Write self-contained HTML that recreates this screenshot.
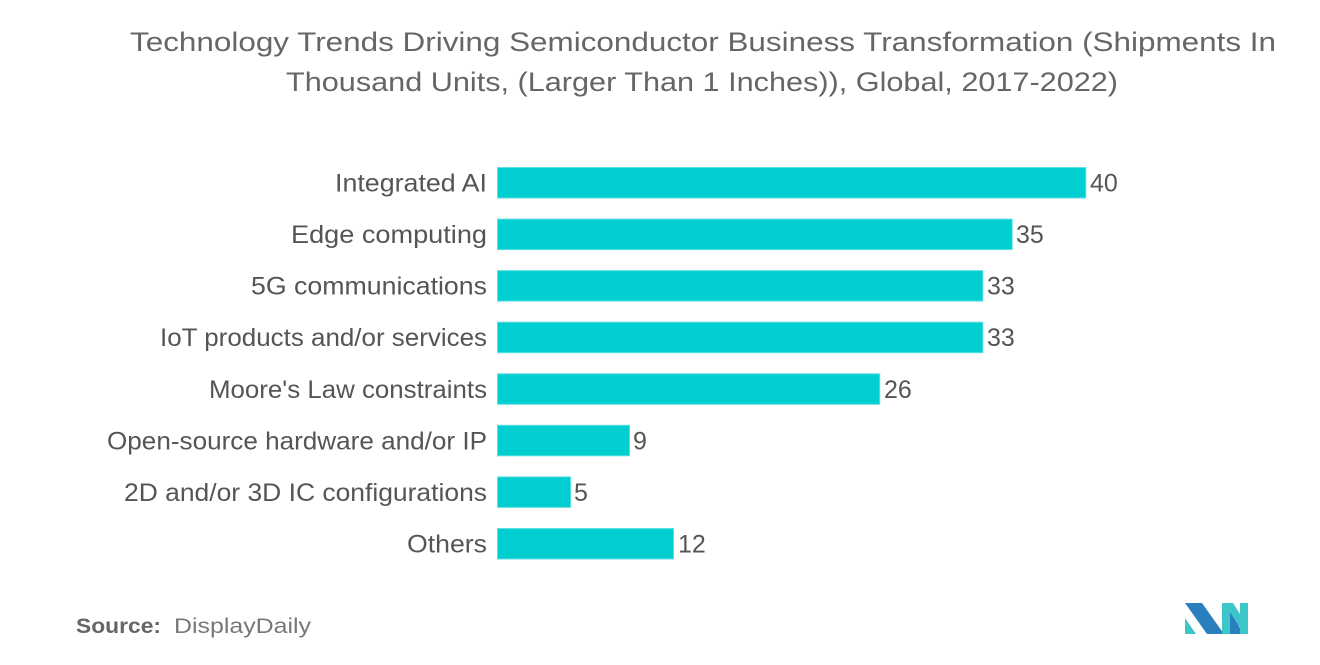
<!DOCTYPE html>
<html>
<head>
<meta charset="utf-8">
<style>
  html,body{margin:0;padding:0;background:#fff;}
  svg{display:block;}
  text{font-family:"Liberation Sans",sans-serif;}
</style>
</head>
<body>
<svg width="1320" height="665" viewBox="0 0 1320 665" xmlns="http://www.w3.org/2000/svg">
  <rect width="1320" height="665" fill="#fff"/>
  <!-- Title -->
  <text x="130" y="51" font-size="27" fill="#666" textLength="1146" lengthAdjust="spacingAndGlyphs">Technology Trends Driving Semiconductor Business Transformation (Shipments In</text>
  <text x="286" y="91" font-size="27" fill="#666" textLength="832" lengthAdjust="spacingAndGlyphs">Thousand Units, (Larger Than 1 Inches)), Global, 2017-2022)</text>

  <!-- Bars -->
  <g fill="#00CED1" stroke="#5ee0e2" stroke-width="1">
    <rect x="497.5" y="167.5" width="588.3" height="30.5"/>
    <rect x="497.5" y="219.1" width="514.7" height="30.5"/>
    <rect x="497.5" y="270.6" width="485.3" height="30.5"/>
    <rect x="497.5" y="322.2" width="485.3" height="30.5"/>
    <rect x="497.5" y="373.8" width="382.2" height="30.5"/>
    <rect x="497.5" y="425.3" width="132" height="30.5"/>
    <rect x="497.5" y="476.9" width="73.1" height="30.5"/>
    <rect x="497.5" y="528.5" width="176" height="30.5"/>
  </g>

  <!-- Category labels -->
  <g font-size="25" fill="#555" text-anchor="end">
    <text x="487" y="191.5" textLength="152" lengthAdjust="spacingAndGlyphs">Integrated AI</text>
    <text x="487" y="243.1" textLength="196" lengthAdjust="spacingAndGlyphs">Edge computing</text>
    <text x="487" y="294.6" textLength="236" lengthAdjust="spacingAndGlyphs">5G communications</text>
    <text x="487" y="346.2" textLength="327" lengthAdjust="spacingAndGlyphs">IoT products and/or services</text>
    <text x="487" y="397.8" textLength="278" lengthAdjust="spacingAndGlyphs">Moore's Law constraints</text>
    <text x="487" y="449.3" textLength="380" lengthAdjust="spacingAndGlyphs">Open-source hardware and/or IP</text>
    <text x="487" y="500.9" textLength="363" lengthAdjust="spacingAndGlyphs">2D and/or 3D IC configurations</text>
    <text x="487" y="552.5" textLength="80" lengthAdjust="spacingAndGlyphs">Others</text>
  </g>

  <!-- Value labels -->
  <g font-size="25" fill="#555">
    <text x="1090" y="191.5">40</text>
    <text x="1016" y="243.1">35</text>
    <text x="987" y="294.6">33</text>
    <text x="987" y="346.2">33</text>
    <text x="884" y="397.8">26</text>
    <text x="633" y="449.3">9</text>
    <text x="574" y="500.9">5</text>
    <text x="678" y="552.5">12</text>
  </g>

  <!-- Source -->
  <text x="76" y="633" font-size="21" font-weight="bold" fill="#666" textLength="85" lengthAdjust="spacingAndGlyphs">Source:</text>
  <text x="174" y="633" font-size="21" fill="#777" textLength="137" lengthAdjust="spacingAndGlyphs">DisplayDaily</text>

  <!-- Logo -->
  <g>
    <polygon points="1185,618 1185,634 1196,634" fill="#3cc6c8"/>
    <polygon points="1185,603 1202,603 1224,634 1207,634" fill="#2a7fbf"/>
    <polygon points="1222,603 1233,603 1240,614 1240,626 1233,634 1222,634" fill="#3cc6c8"/>
    <polygon points="1230,612 1240,628 1240,634 1230,634" fill="#2a7fbf"/>
    <polygon points="1240,603 1248,603 1248,634 1240,634" fill="#3cc6c8"/>
  </g>
</svg>
</body>
</html>
